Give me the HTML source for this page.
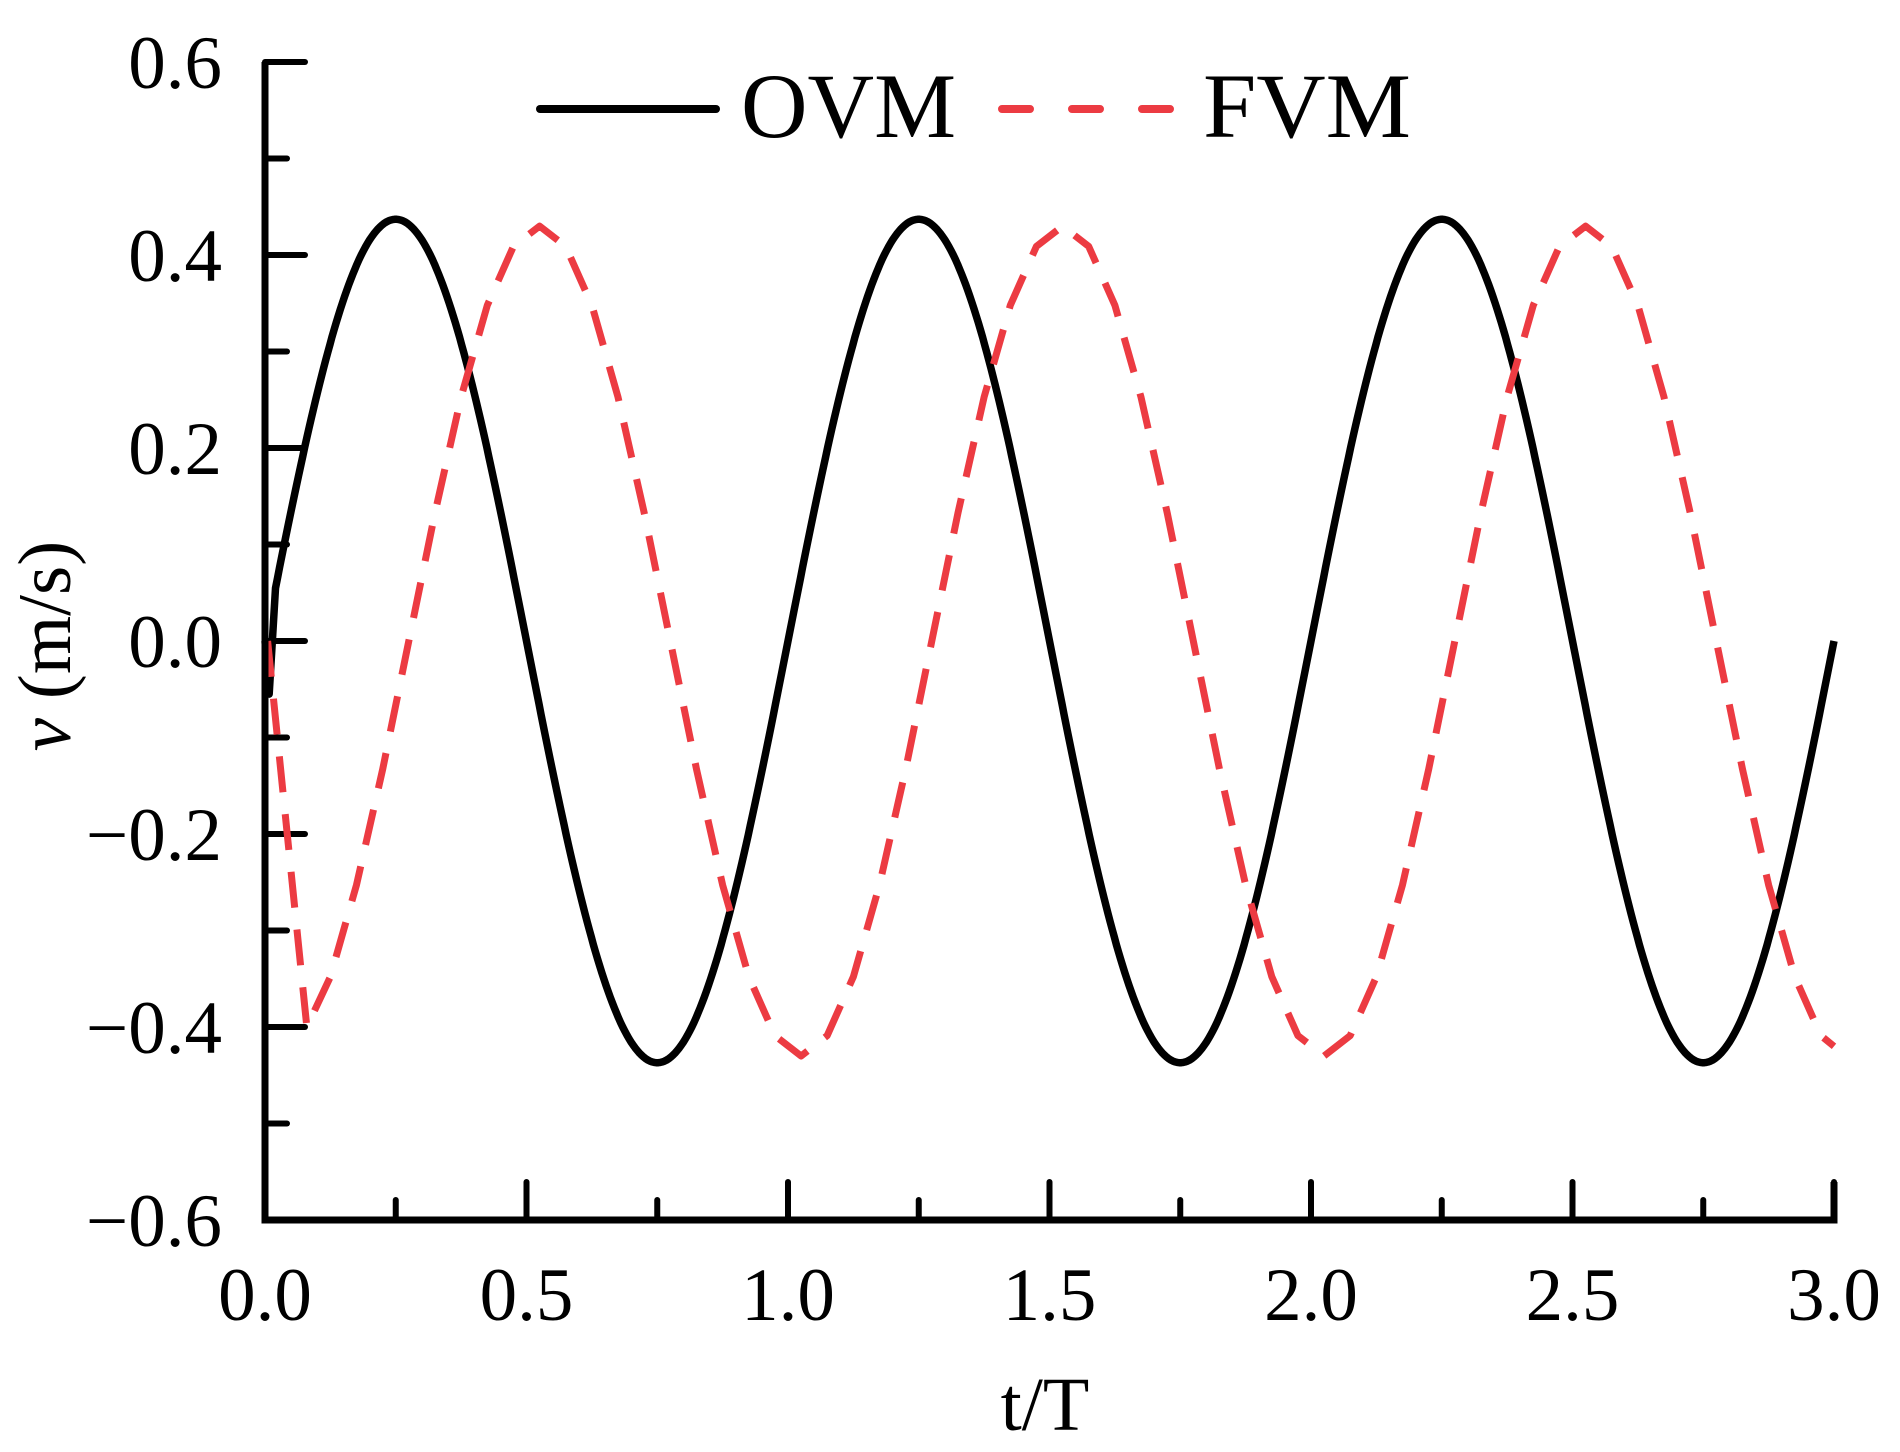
<!DOCTYPE html>
<html><head><meta charset="utf-8"><style>
html,body{margin:0;padding:0;background:#fff}
svg{display:block}
text{font-family:"Liberation Serif",serif;fill:#000}
</style></head><body>
<svg id="s" width="1900" height="1452" viewBox="0 0 1900 1452" xmlns="http://www.w3.org/2000/svg">
<g id="ticks" stroke="#000" stroke-width="6" stroke-linecap="round"></g>
<path id="ovm" fill="none" stroke="#000" stroke-width="7.5" stroke-linejoin="round"/>
<path id="fvm" fill="none" stroke="#ec3b42" stroke-width="7" stroke-dasharray="36 22" stroke-linejoin="round"/>
<path d="M265,62 L265,1220 L1834,1220 L1834,1182" fill="none" stroke="#000" stroke-width="7" stroke-linejoin="miter"/>
<g font-size="75" text-anchor="end" id="ylab"></g>
<g font-size="75" text-anchor="middle" id="xlab"></g>
<text x="1045" y="1430" font-size="76" text-anchor="middle">t/T</text>
<text transform="translate(70,646) rotate(-90)" font-size="75" text-anchor="middle"><tspan font-style="italic">v</tspan> (m/s)</text>
<line x1="540" y1="109" x2="716" y2="109" stroke="#000" stroke-width="8" stroke-linecap="round"/>
<text x="741" y="137" font-size="92" textLength="215" lengthAdjust="spacingAndGlyphs">OVM</text>
<line x1="1002" y1="109" x2="1172" y2="109" stroke="#ec3b42" stroke-width="8" stroke-linecap="round" stroke-dasharray="28 42"/>
<text x="1203" y="137" font-size="92" textLength="208" lengthAdjust="spacingAndGlyphs">FVM</text>
</svg>
<script>
var X=function(t){return 265+t*523;}, Y=function(v){return 641-v*965;};
var g=document.getElementById('ticks'),ns="http://www.w3.org/2000/svg";
function ln(x1,y1,x2,y2){var l=document.createElementNS(ns,'line');l.setAttribute('x1',x1);l.setAttribute('y1',y1);l.setAttribute('x2',x2);l.setAttribute('y2',y2);g.appendChild(l);}
for(var i=-6;i<=6;i++){var y=Y(i/10);ln(265,y,265+(i%2==0?40:22),y);}
for(var k=0;k<=12;k++){var x=X(k*0.25);ln(x,1220,x,1220-(k%2==0?38:20));}
var yl=document.getElementById('ylab'),xl=document.getElementById('xlab');
for(var i=-3;i<=3;i++){var t=document.createElementNS(ns,'text');t.setAttribute('x',222);t.setAttribute('y',Y(i*0.2)+26);t.textContent=(i<0?'\u2212':'')+Math.abs(i*0.2).toFixed(1);yl.appendChild(t);}
for(var k=0;k<=6;k++){var t=document.createElementNS(ns,'text');t.setAttribute('x',X(k*0.5));t.setAttribute('y',1320);t.textContent=(k*0.5).toFixed(1);xl.appendChild(t);}
var d='M'+X(0)+','+Y(0)+' L'+X(0.008)+','+Y(-0.055);
for(var t=0.02;t<=3.0001;t+=0.004){d+=' L'+X(t).toFixed(1)+','+Y(0.437*Math.sin(2*Math.PI*t)).toFixed(1);}
document.getElementById('ovm').setAttribute('d',d);
var f='M'+X(0.005)+','+Y(0)+' L'+X(0.08)+','+Y(-0.40);
for(var t=0.125;t<=3.0001;t+=0.05){f+=' L'+X(t).toFixed(1)+','+Y(-0.43*Math.cos(2*Math.PI*(t-0.025))).toFixed(1);}
f+=' L'+X(3.0)+','+Y(-0.42);
document.getElementById('fvm').setAttribute('d',f);
</script>
</body></html>
